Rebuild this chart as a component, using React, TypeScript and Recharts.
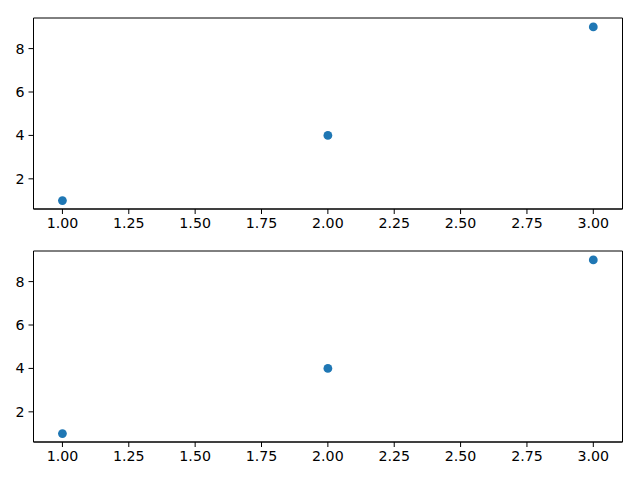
import { ScatterChart, Scatter, XAxis, YAxis, ReferenceArea } from "recharts";

const xValues = [1, 2, 3];
const yValues = [1, 4, 9];
const xTicks = [1.0, 1.25, 1.5, 1.75, 2.0, 2.25, 2.5, 2.75, 3.0];
const yTicks = [2, 4, 6, 8];
const xDomain = [0.891, 3.11];
const yDomain = [0.61, 9.41];

const points = xValues.map((x, i) => ({ x, y: yValues[i] }));

const tickStyle = { fill: "#000", fontSize: 14.2, fontFamily: "DejaVu Sans" };

function Dot(props: any) {
  return <circle cx={props.cx} cy={props.cy} r={4.4} fill="#1f77b4" />;
}

function Panel({ top }: { top: number }) {
  return (
    <div style={{ position: "absolute", left: 0, top, width: 640, height: 240 }}>
      <ScatterChart width={640} height={240} margin={{ top: 18, right: 17.5, bottom: 1, left: 0 }}>
        <XAxis
          type="number"
          dataKey="x"
          domain={xDomain}
          ticks={xTicks}
          tickFormatter={(v: number) => v.toFixed(2)}
          height={30}
          tickSize={5}
          tickMargin={4}
          stroke="#000"
          tick={tickStyle}
          allowDataOverflow
        />
        <YAxis
          type="number"
          dataKey="y"
          domain={yDomain}
          ticks={yTicks}
          width={33.5}
          tickSize={5}
          tickMargin={4}
          stroke="#000"
          tick={tickStyle}
          allowDataOverflow
        />
        {/* box around the plot area, like a matplotlib axes frame */}
        <ReferenceArea
          x1={xDomain[0]}
          x2={xDomain[1]}
          y1={yDomain[0]}
          y2={yDomain[1]}
          fill="none"
          stroke="#000"
          strokeWidth={1}
          fillOpacity={0}
          strokeOpacity={1}
        />
        <Scatter data={points} shape={Dot} isAnimationActive={false} />
      </ScatterChart>
    </div>
  );
}

export default function App() {
  return (
    <div style={{ position: "absolute", left: 0, top: 0, width: 640, height: 480, background: "#fff" }}>
      <Panel top={0} />
      <Panel top={233} />
    </div>
  );
}
